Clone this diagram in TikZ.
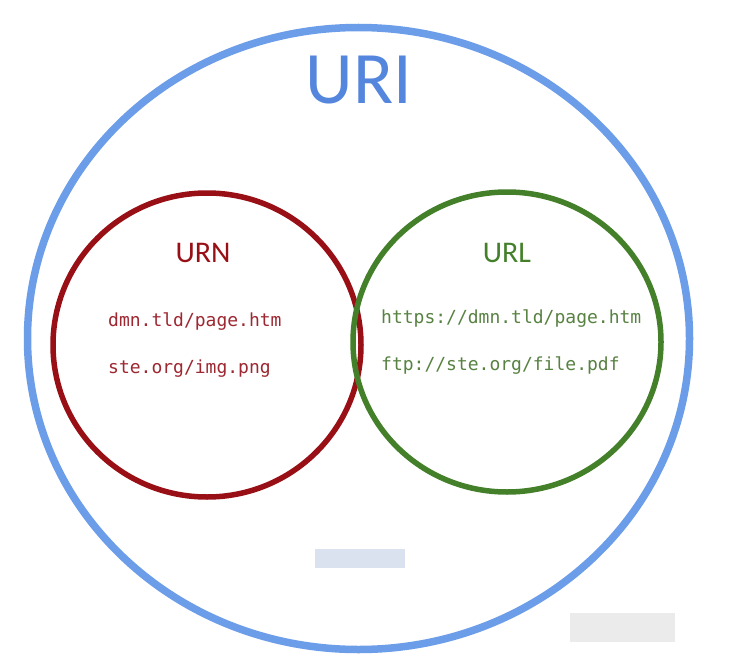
\documentclass[tikz,border=0pt]{standalone}
\usepackage{fontspec}
\setmainfont{Carlito}
\setmonofont{DejaVu Sans Mono}
\usepackage{tikz}
\usetikzlibrary{positioning}
\definecolor{uriblue}{RGB}{108,157,232}
\definecolor{uritext}{RGB}{84,134,222}
\definecolor{urnred}{RGB}{152,16,22}
\definecolor{urntext}{RGB}{158,40,50}
\definecolor{urlgreen}{RGB}{68,128,42}
\definecolor{urltext}{RGB}{88,130,66}
\definecolor{maskblue}{RGB}{218,226,240}
\definecolor{maskgray}{RGB}{226,226,226}

\begin{document}
\begin{tikzpicture}[x=1pt, y=-1pt,
    title/.style={font=\fontsize{#1}{#1}\selectfont, inner sep=0pt},
    addr/.style={font=\ttfamily\fontsize{18}{18}\selectfont, anchor=west, inner sep=0pt}]
    \useasboundingbox (0,0) rectangle (741,666);
    \fill[white] (0,0) rectangle (741,666);

    % URI
    \draw[uriblue, line width=7.5pt] (358.5,338.5) ellipse [x radius=331, y radius=311];
    \node[title=74, text=uritext] (uri) at (359,80) {URI};

    % URN
    \draw[urnred, line width=5.5pt] (207,345) ellipse [x radius=154, y radius=152];
    \node[title=30, text=urnred] (urn) at (203,253) {URN};
    \node[addr, text=urntext] (urn1) at (108,322) {dmn.tld/page.htm};
    \node[addr, text=urntext, below=47pt of urn1.west, anchor=west] (urn2) {ste.org/img.png};

    % URL
    \draw[urlgreen, line width=5.5pt] (507,342) ellipse [x radius=154, y radius=150];
    \node[title=30, text=urlgreen] (url) at (507,253) {URL};
    \node[addr, text=urltext] (url1) at (381,319) {https://dmn.tld/page.htm};
    \node[addr, text=urltext, below=47pt of url1.west, anchor=west] (url2) {ftp://ste.org/file.pdf};

    % blurred marks
    \fill[maskblue] (315,549) rectangle (405,568);
    \fill[maskgray!70] (570,613) rectangle (675,642);
\end{tikzpicture}
\end{document}
